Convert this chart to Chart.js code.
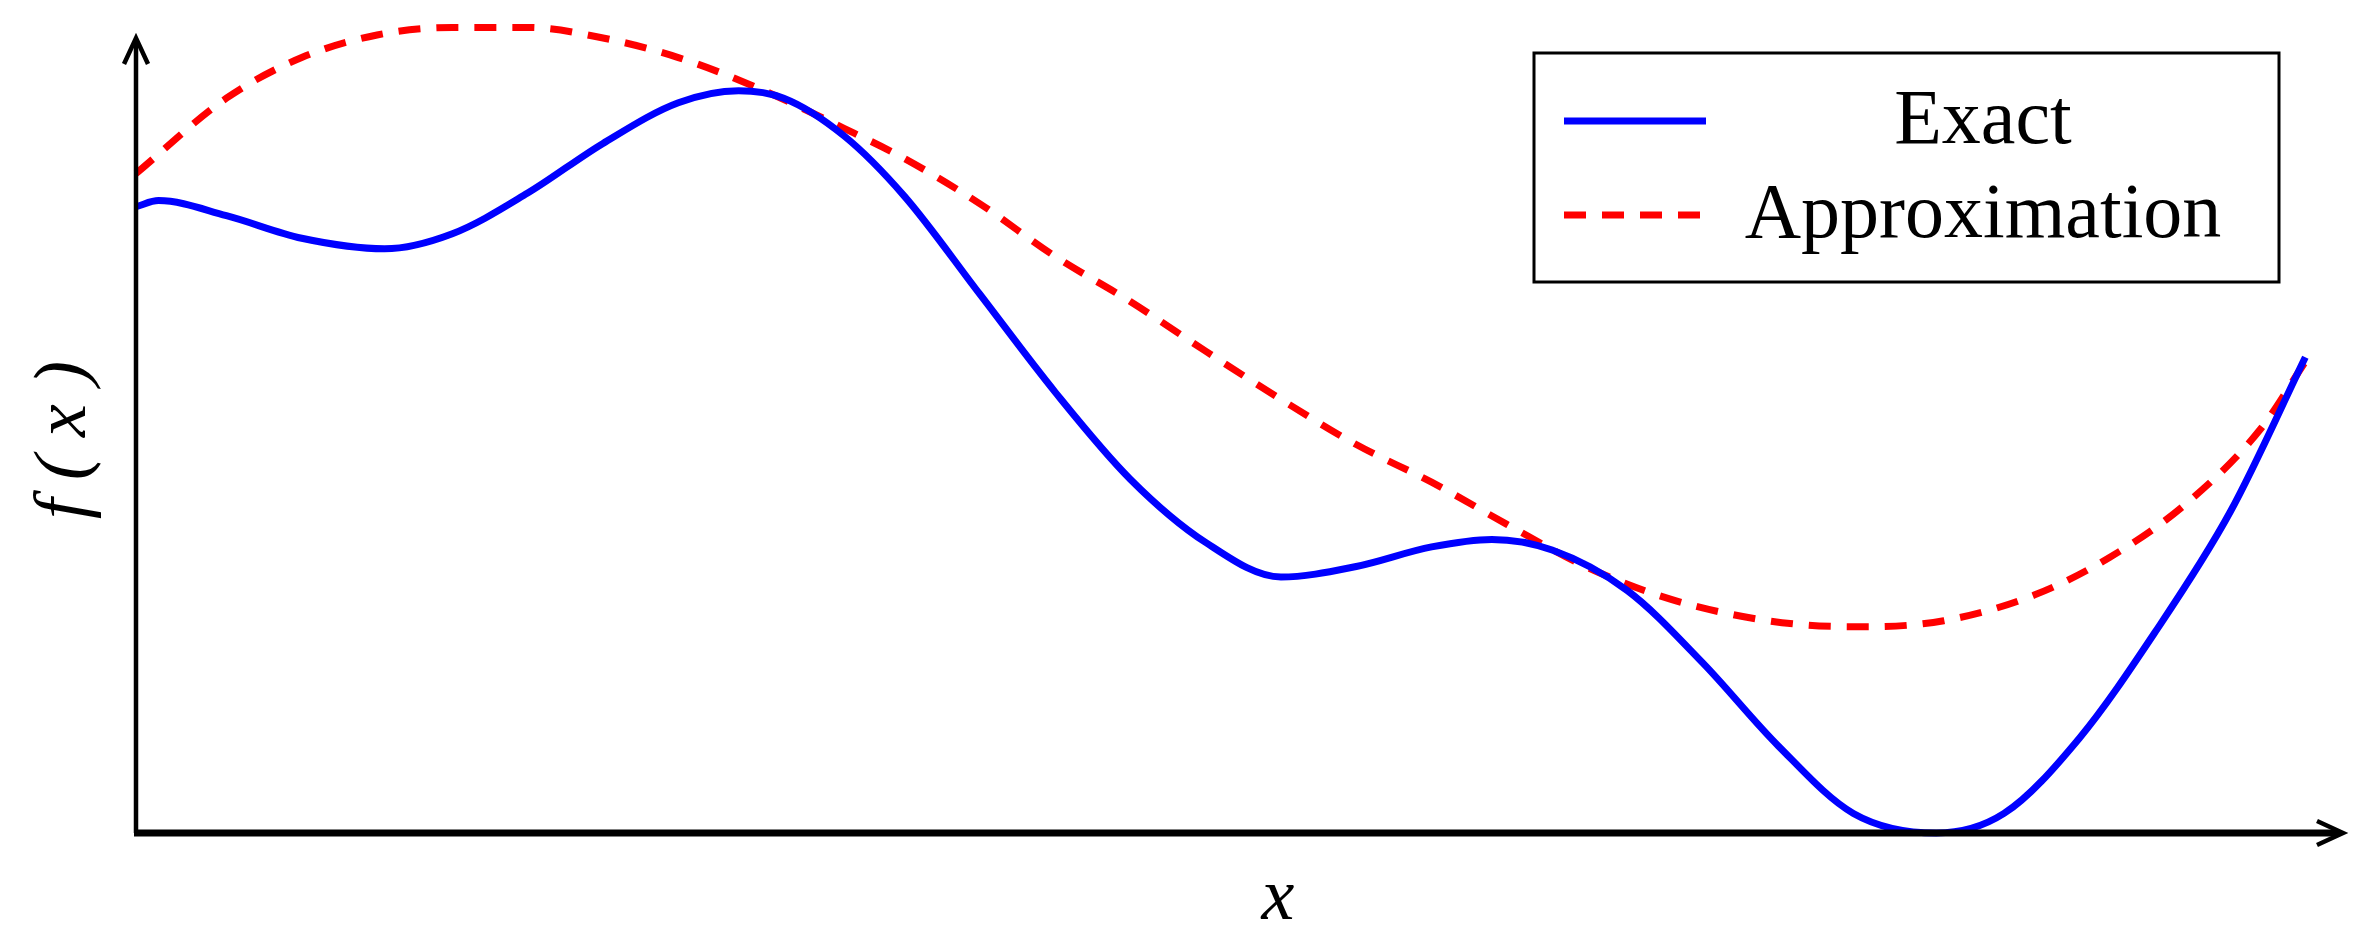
<!DOCTYPE html>
<html><head><meta charset="utf-8">
<script src="https://cdn.jsdelivr.net/npm/chart.js@4"></script>
<style>html,body{margin:0;padding:0;background:#fff}#w{width:2355px;height:936px}</style>
</head><body><div id="w"><canvas id="c"></canvas></div>
<script>
const exactX = [0,15,60,110,165,210,260,310,360,400,430,470,510,560,610,660,710,760,810,860,900,940,990,1040,1090,1140,1195,1240,1290,1340,1390,1440];
const exactY = [416,420,410,395,388,398,425,458,485,493,488,463,423,358,293,235,193,170,177,190,195,188,161,113,58,13,0,13,63,133,213,316];
const approxX = [0,60,110,160,210,260,310,360,410,470,510,560,610,660,710,760,810,860,910,960,1010,1060,1110,1150,1200,1260,1310,1360,1410,1440];
const approxY = [438,488,515,530,535,535,528,515,496,468,448,418,383,353,320,288,258,233,205,178,158,145,138,137,141,158,183,218,268,313];
const seriesNames = ["Exact","Approximation"];

const pts = (xs, ys) => xs.map((x, i) => ({x, y: ys[i]}));

const deco = {
  id: 'deco',
  afterDraw(chart) {
    const ctx = chart.ctx, a = chart.chartArea;
    ctx.save();
    ctx.strokeStyle = '#000'; ctx.fillStyle = '#000';
    ctx.lineWidth = 4.5;
    ctx.beginPath(); ctx.moveTo(a.left, a.bottom); ctx.lineTo(a.left, a.top + 4); ctx.stroke();
    ctx.beginPath(); ctx.moveTo(a.left - 12, a.top + 26); ctx.lineTo(a.left, a.top); ctx.lineTo(a.left + 12, a.top + 26); ctx.stroke();
    ctx.lineWidth = 7;
    ctx.beginPath(); ctx.moveTo(a.left - 2, a.bottom); ctx.lineTo(a.right - 4, a.bottom); ctx.stroke();
    ctx.lineWidth = 4.5;
    ctx.beginPath(); ctx.moveTo(a.right - 26, a.bottom - 12); ctx.lineTo(a.right, a.bottom); ctx.lineTo(a.right - 26, a.bottom + 12); ctx.stroke();
    ctx.font = 'italic 74px "Liberation Serif", serif';
    ctx.textAlign = 'center'; ctx.textBaseline = 'middle';
    ctx.fillText('x', 1278, 900);
    ctx.save(); ctx.translate(66, 440); ctx.rotate(-Math.PI / 2);
    ctx.fillText('f ( x )', 0, 0); ctx.restore();
    const bx = 1534, by = 53, bw = 745, bh = 229;
    ctx.fillStyle = '#fff'; ctx.fillRect(bx, by, bw, bh);
    ctx.lineWidth = 3; ctx.strokeStyle = '#000'; ctx.strokeRect(bx, by, bw, bh);
    const rows = [{y: 121, c: '#0000ff', d: []}, {y: 215, c: '#ff0000', d: [22, 16]}];
    ctx.font = '78px "Liberation Serif", serif';
    ctx.fillStyle = '#000';
    rows.forEach((r, i) => {
      ctx.strokeStyle = r.c; ctx.lineWidth = 7; ctx.setLineDash(r.d);
      ctx.beginPath(); ctx.moveTo(1564, r.y); ctx.lineTo(1706, r.y); ctx.stroke();
      ctx.setLineDash([]);
      ctx.fillText(seriesNames[i], 1983, r.y + 2);
    });
    ctx.restore();
  }
};

new Chart(document.getElementById('c'), {
  type: 'line',
  data: {
    datasets: [
      {label: seriesNames[0], data: pts(exactX, exactY), borderColor: '#0000ff', borderWidth: 7, pointRadius: 0, cubicInterpolationMode: 'monotone', fill: false, clip: false},
      {label: seriesNames[1], data: pts(approxX, approxY), borderColor: '#ff0000', borderWidth: 7, borderDash: [22, 16], pointRadius: 0, cubicInterpolationMode: 'monotone', fill: false, clip: false}
    ]
  },
  options: {
    responsive: true, maintainAspectRatio: false, animation: false,
    layout: {padding: {left: 136, right: 12, top: 38, bottom: 103}},
    plugins: {legend: {display: false}, tooltip: {enabled: false}},
    scales: {
      x: {type: 'linear', min: 0, max: 1465, display: false},
      y: {min: 0, max: 528, display: false}
    }
  },
  plugins: [deco]
});
</script></body></html>
